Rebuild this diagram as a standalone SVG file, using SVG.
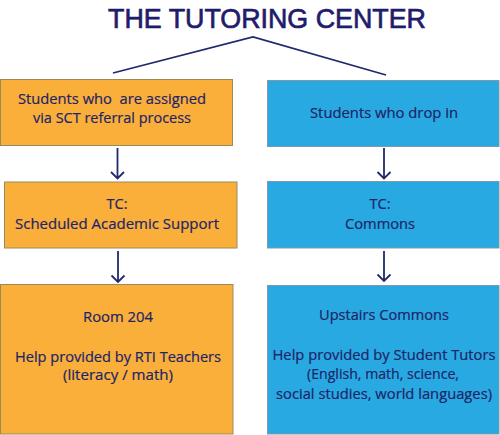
<svg xmlns="http://www.w3.org/2000/svg" width="500" height="435" viewBox="0 0 500 435">
<style>
.o{fill:#F9AF3A;stroke:#9A8A5A;stroke-width:1}
.b{fill:#29A9E1;stroke:#7E9AAA;stroke-width:1}
text{font-family:"Open Sans","Liberation Sans",sans-serif;fill:#1E2468;text-anchor:middle}
.t{font-size:14.5px;stroke:#1E2468;stroke-width:0.2}
.h{font-family:"Liberation Sans","Open Sans",sans-serif;font-size:28px;fill:#1F1C6B;stroke:#1F1C6B;stroke-width:0.7}
.c{stroke:#1E2A6E;stroke-width:1.8;fill:none}
</style>
<rect width="500" height="435" fill="#fff"/>
<text class="h" x="267" y="28" textLength="318" lengthAdjust="spacingAndGlyphs">THE TUTORING CENTER</text>
<g id="connectors">
<path class="c" d="M113 73 L253 37 L386 75"/>
<path class="c" d="M117.5 148 V178.5 M111 172 L117.5 178.5 L124 172"/>
<path class="c" d="M384 148 V178.5 M377.5 172 L384 178.5 L390.5 172"/>
<path class="c" d="M118 251 V282 M111.5 275.5 L118 282 L124.5 275.5"/>
<path class="c" d="M384 251 V281 M377.5 274.5 L384 281 L390.5 274.5"/>
</g>
<g id="n1">
<rect class="o" x="0.5" y="79.5" width="232" height="66"/>
<text class="t" x="112" y="104" textLength="188" lengthAdjust="spacingAndGlyphs" xml:space="preserve">Students who  are assigned</text>
<text class="t" x="112" y="123" textLength="158" lengthAdjust="spacingAndGlyphs">via SCT referral process</text>
</g>
<g id="n2">
<rect class="b" x="267.5" y="80.5" width="231.5" height="66"/>
<text class="t" x="384" y="118" textLength="148" lengthAdjust="spacingAndGlyphs">Students who drop in</text>
</g>
<g id="n3">
<rect class="o" x="4.5" y="182" width="232.5" height="66"/>
<text class="t" x="117" y="209">TC:</text>
<text class="t" x="117" y="229" textLength="204" lengthAdjust="spacingAndGlyphs">Scheduled Academic Support</text>
</g>
<g id="n4">
<rect class="b" x="267.5" y="181.5" width="231.5" height="66.5"/>
<text class="t" x="380" y="209">TC:</text>
<text class="t" x="380" y="229" textLength="70" lengthAdjust="spacingAndGlyphs">Commons</text>
</g>
<g id="n5">
<rect class="o" x="0.5" y="284.5" width="232.5" height="149.5"/>
<text class="t" x="118" y="322" textLength="70" lengthAdjust="spacingAndGlyphs">Room 204</text>
<text class="t" x="118" y="362" textLength="206" lengthAdjust="spacingAndGlyphs">Help provided by RTI Teachers</text>
<text class="t" x="118" y="380" textLength="110" lengthAdjust="spacingAndGlyphs">(literacy / math)</text>
</g>
<g id="n6">
<rect class="b" x="267.5" y="285.5" width="231.5" height="148.5"/>
<text class="t" x="384" y="320" textLength="130" lengthAdjust="spacingAndGlyphs">Upstairs Commons</text>
<text class="t" x="384" y="360" textLength="223" lengthAdjust="spacingAndGlyphs">Help provided by Student Tutors</text>
<text class="t" x="383" y="379" textLength="152" lengthAdjust="spacingAndGlyphs">(English, math, science,</text>
<text class="t" x="384" y="399" textLength="216" lengthAdjust="spacingAndGlyphs">social studies, world languages)</text>
</g>
</svg>
